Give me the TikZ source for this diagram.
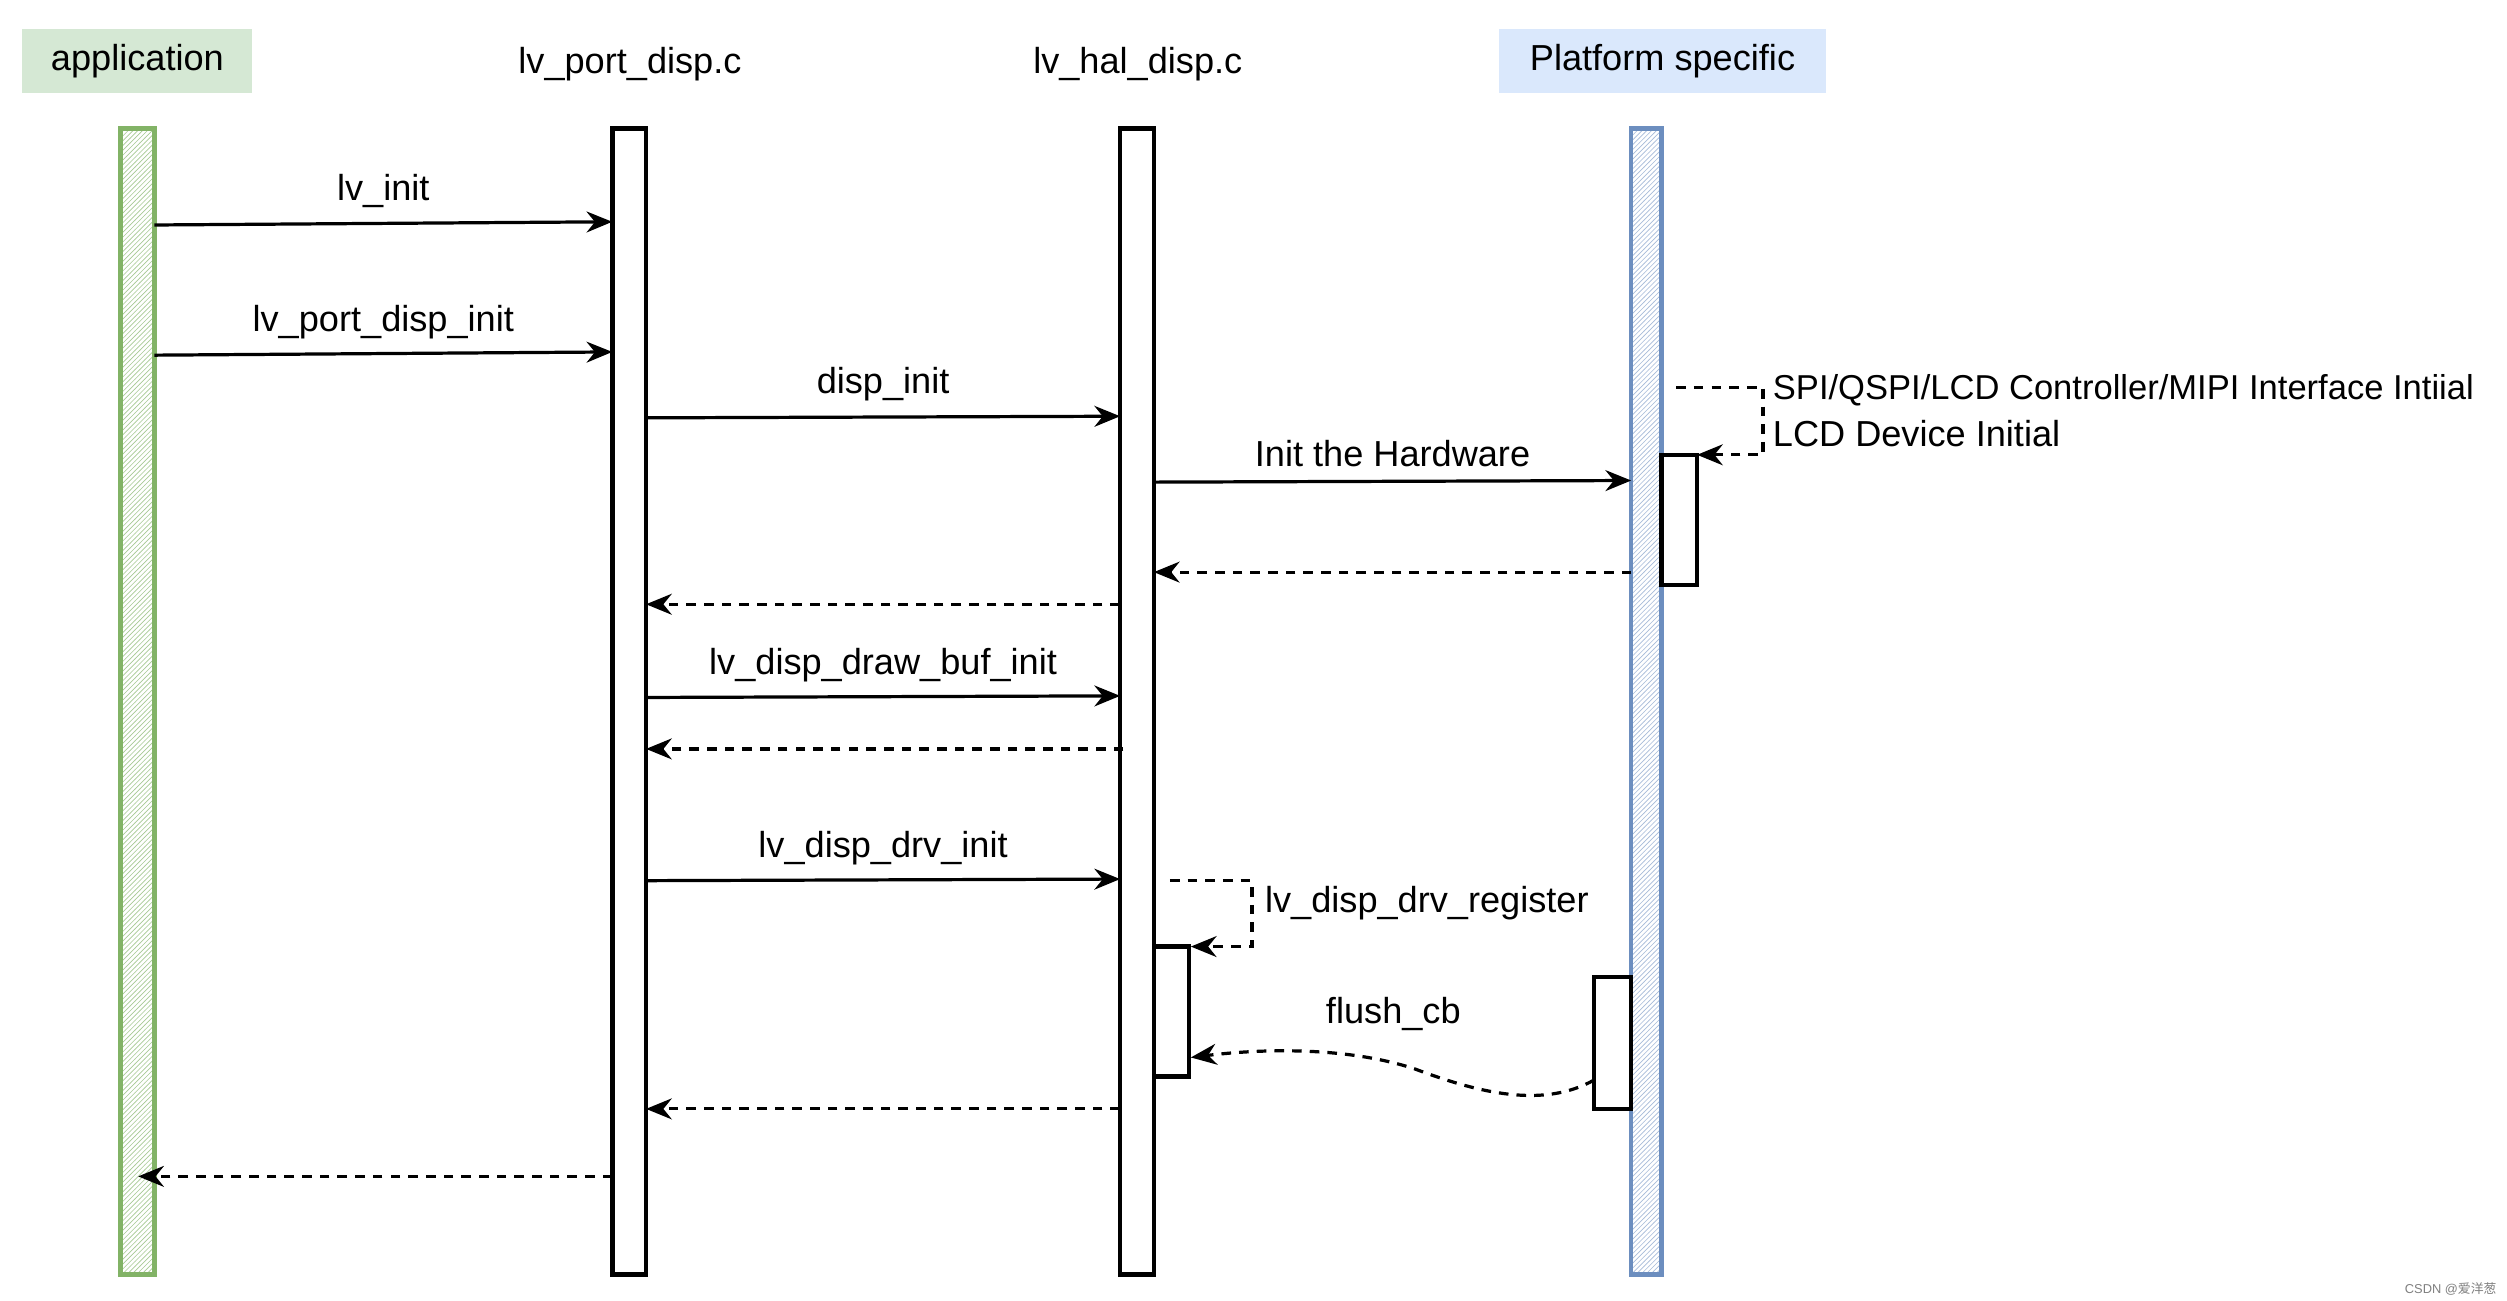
\documentclass[tikz,border=0pt]{standalone}
\usepackage{fontspec}
\setmainfont{Liberation Sans}
\newfontfamily\cjk{Noto Sans CJK SC}
\usetikzlibrary{patterns,arrows.meta}
\definecolor{gfill}{HTML}{D5E8D4}\definecolor{gline}{HTML}{82B366}
\definecolor{bfill}{HTML}{DAE8FC}\definecolor{bline}{HTML}{6C8EBF}
\begin{document}
\begin{tikzpicture}[x=1pt,y=-1pt,
  lbl/.style={font=\fontsize{22.5}{27}\selectfont,inner sep=0pt},
  bar/.style={draw=black,line width=2.8pt,fill=white},
  msg/.style={-{Stealth[length=16pt,width=13pt]},line width=2pt},
  ret/.style={msg,dashed,dash pattern=on 6pt off 5pt}]
\useasboundingbox (0,0) rectangle (1560,809);
\fill[white] (0,0) rectangle (1560,809);
% headers
\node[lbl,fill=gfill,minimum width=143pt,minimum height=40pt] (ha) at (85.5,38) {application};
\node[lbl] (hp) at (392,40) {lv\_port\_disp.c};
\node[lbl] (hh) at (708,40) {lv\_hal\_disp.c};
\node[lbl,fill=bfill,minimum width=203pt,minimum height=40pt] (hs) at (1034.5,38) {Platform specific};
% lifelines
\draw[draw=gline,line width=2.8pt,pattern=north east lines,pattern color=gline!70] (75,80) rectangle (96,793);
\draw[bar] (381,80) rectangle (402,793);
\draw[bar] (697,80) rectangle (718,793);
\draw[draw=bline,line width=2.8pt,pattern=north east lines,pattern color=bline!60] (1015,80) rectangle (1034,793);
\draw[bar] (1034,283) rectangle (1056,364);
\draw[bar] (718,589) rectangle (740,670);
\draw[bar] (992,608) rectangle (1015,690);
% coordinates
\coordinate (a1) at (96,140); \coordinate (b1) at (381,138);
\coordinate (a2) at (96,221); \coordinate (b2) at (381,219);
\coordinate (p3) at (402,260); \coordinate (h3) at (697,259);
\coordinate (h4) at (718,300); \coordinate (s4) at (1015,299);
\coordinate (s5) at (1015,356); \coordinate (h5) at (718,356);
\coordinate (h6) at (697,376); \coordinate (p6) at (402,376);
\coordinate (p7) at (402,434); \coordinate (h7) at (697,433);
\coordinate (h8) at (699,466); \coordinate (p8) at (402,466);
\coordinate (p9) at (402,548); \coordinate (h9) at (697,547);
\coordinate (h10) at (697,690); \coordinate (p10) at (402,690);
\coordinate (p11) at (381,732); \coordinate (a11) at (86,732);
\coordinate (ss) at (1043,241); \coordinate (se) at (1056,283);
\coordinate (hs1) at (728,548); \coordinate (he1) at (741,589);
\coordinate (fs) at (992,672); \coordinate (fe) at (741,658);
% messages
\draw[msg] (a1) -- node[lbl,above=9pt] {lv\_init} (b1);
\draw[msg] (a2) -- node[lbl,above=8pt] {lv\_port\_disp\_init} (b2);
\draw[msg] (p3) -- node[lbl,above=9pt] {disp\_init} (h3);
\draw[msg] (h4) -- node[lbl,above=8pt] {Init the Hardware} (s4);
\draw[ret] (s5) -- (h5);
\draw[ret] (h6) -- (p6);
\draw[msg] (p7) -- node[lbl,above=8pt] {lv\_disp\_draw\_buf\_init} (h7);
\draw[ret] (h8) -- (p8);
\draw[msg] (p9) -- node[lbl,above=8pt] {lv\_disp\_drv\_init} (h9);
\draw[ret] (h10) -- (p10);
\draw[ret] (p11) -- (a11);
\draw[ret] (ss) -- (1097,241) -- (1097,283) -- (se);
\node[lbl,anchor=west,font=\fontsize{21.5}{26}\selectfont] (t1) at (1103,243) {SPI/QSPI/LCD Controller/MIPI Interface Intiial};
\node[lbl,anchor=west] (t2) at (1103,270) {LCD Device Initial};
\draw[ret] (hs1) -- (779,548) -- (779,589) -- (he1);
\node[lbl,anchor=west] (t3) at (787,562) {lv\_disp\_drv\_register};
\draw[ret] (fs) .. controls (960,690) and (920,680) .. (880,665) .. controls (840,652) and (790,652) .. (fe);
\node[lbl] (t4) at (867,631) {flush\_cb};
\node[font=\fontsize{8}{9}\selectfont,text=gray,anchor=east] (wm) at (1557,802) {CSDN @{\cjk 爱洋葱}};
\end{tikzpicture}
\end{document}
